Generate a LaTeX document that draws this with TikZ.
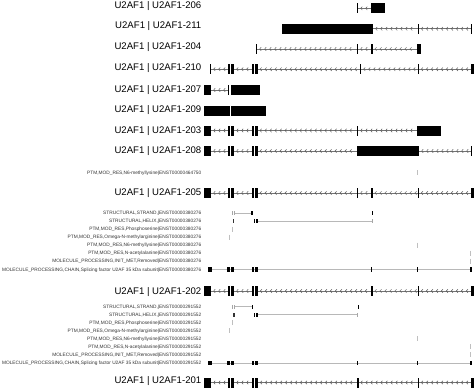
\documentclass[tikz,border=0pt]{standalone}
\usepackage{fontspec}
\setmainfont{Liberation Sans}
\usetikzlibrary{
    decorations.markings,
    positioning
}
\tikzset{
    every picture/.style = {
        x = 1pt,
        y = -1pt
    },
    tlabel/.style = {
        anchor = east,
        inner sep = 0pt,
        text height = 6.9pt,
        text depth = 0pt,
        font = \fontsize{9.6}{11}\selectfont
    },
    flabel/.style = {
        anchor = east,
        inner sep = 0pt,
        text height = 3.4pt,
        text depth = 0pt,
        text = black!80,
        font = \fontsize{4.8}{5.5}\selectfont
    },
    exon/.style = {fill = black},
    intron/.style = {
        draw = black!55,
        line width = 0.5pt,
        postaction = {decorate},
        decoration = {markings,
            mark = between positions 3pt and -2pt step 5pt with {
                \draw[black!65, line width = 0.45pt] (0.9pt,1.7pt) -- (-0.7pt,0pt) -- (0.9pt,-1.7pt);
            }
        }
    },
    fline/.style = {draw = black!28, line width = 0.8pt},
    ftick/.style = {draw = black!25, line width = 0.5pt}
}

% row y, label y, name, exons
\newcommand\transcript[4]{%
    \node[tlabel] (l#3) at (201.5,#2) {U2AF1 | U2AF1-#3};
    \foreach \a/\b [remember = \b as \prev (initially 0)] in {#4} {
        \pgfmathparse{and(\prev > 0, \a - \prev > 2.5)}
        \ifdim\pgfmathresult pt>0.5pt
            \draw[intron] (\prev,#1) -- (\a,#1);
        \fi
        \fill[exon] (\a,#1-5) rectangle (\b,#1+5);
    }
}
% y, name, label, lines, marks
\newcommand\featrow[5]{%
    \node[flabel] (#2) at (201.5,#1) {#3};
    \foreach \a/\b in {#4} \draw[fline] (\a,#1) -- (\b,#1);
    \foreach \a/\b/\c in {#5} \fill[\c] (\a,#1-2.2) rectangle (\b,#1+2.2);
}
% y, name, label, position
\newcommand\ptmrow[4]{%
    \node[flabel] (#2) at (201.5,#1) {#3};
    \draw[ftick] (#4,#1-2.5) -- (#4,#1+2.5);
}

\begin{document}
\begin{tikzpicture}
    \useasboundingbox (0,0) rectangle (474,389);

    \transcript{8.3}{5.3}{206}{357.2/358.4, 371.3/385}
    \transcript{28.7}{25.5}{211}{282.3/373.3, 417.7/419, 471/472.4}
    \transcript{49}{46.3}{204}{256.1/257.3, 357.1/358.3, 371.4/372.6, 416.7/421}
    \transcript{69.2}{67}{210}{210.1/211.3, 227.7/230, 231/234.3, 251.7/254, 255.3/257.7, 360.1/361.3, 417.6/419, 470.7/474}
    \transcript{90}{89}{207}{204/211.3, 227.7/229.2, 231/260}
    \transcript{110.5}{109.3}{209}{204/230, 231/266}
    \transcript{130.5}{129.7}{203}{204/211.3, 227.7/230, 231/234.3, 251.7/254, 255.3/257.7, 357.1/358.3, 416.7/441}
    \transcript{151}{150.3}{208}{204/211.3, 227.7/230, 231/234.3, 251.7/254, 255.3/257.7, 357.3/419.3, 471/472.4}

    \ptmrow{172.5}{m464750}{PTM,MOD\_RES,N6-methyllysine|ENST00000464750}{417.7}

    \transcript{193}{191.7}{205}{204/211.3, 227.7/230, 231/234.3, 251.7/254, 255.3/257.7, 357.1/358.3, 371.4/372.6, 417.6/419, 470.5/474}

    % features of ENST00000380276
    \featrow{213}{strandA}{STRUCTURAL,STRAND,|ENST00000380276}{234.3/251.4}
        {231.9/232.6/black!35, 233.6/234.3/black!35, 251.4/252.6/black, 371.7/372.9/black}
    \featrow{221}{helixA}{STRUCTURAL,HELIX,|ENST00000380276}{257.7/372}
        {233.1/234.3/black!80, 254.2/255.4/black, 256.4/257.7/black, 371.6/372.4/black!35}
    \ptmrow{229}{phosA}{PTM,MOD\_RES,Phosphoserine|ENST00000380276}{232.3}
    \ptmrow{237}{argA}{PTM,MOD\_RES,Omega-N-methylarginine|ENST00000380276}{229.3}
    \ptmrow{245}{lysA}{PTM,MOD\_RES,N6-methyllysine|ENST00000380276}{417.7}
    \ptmrow{253}{acetA}{PTM,MOD\_RES,N-acetylalanine|ENST00000380276}{470.7}
    \ptmrow{261}{metA}{MOLECULE\_PROCESSING,INIT\_MET,Removed|ENST00000380276}{470.7}
    \featrow{269.3}{chainA}{MOLECULE\_PROCESSING,CHAIN,Splicing factor U2AF 35 kDa subunit|ENST00000380276}{211.7/470.2}
        {208.3/211.7/black, 227.3/230/black, 231/234.3/black, 251.7/254/black, 255.3/257.7/black, 371.2/372.4/black, 417.2/418.4/black, 470.2/471.6/black}

    \transcript{291}{290.8}{202}{204/211.3, 227.7/230, 231/234.3, 251.7/254, 255.3/258, 371.2/372.6, 417.6/419, 470.7/474}

    % features of ENST00000291552
    \featrow{306.7}{strandB}{STRUCTURAL,STRAND,|ENST00000291552}{234.3/251.8}
        {231.9/232.6/black!35, 233.6/234.3/black!35, 251.8/253/black, 357.7/358.9/black}
    \featrow{314.7}{helixB}{STRUCTURAL,HELIX,|ENST00000291552}{257.7/357.7}
        {233.4/234.6/black!80, 254.2/255.4/black, 256.4/257.7/black, 357.3/358.1/black!35}
    \ptmrow{322.7}{phosB}{PTM,MOD\_RES,Phosphoserine|ENST00000291552}{232.3}
    \ptmrow{330.7}{argB}{PTM,MOD\_RES,Omega-N-methylarginine|ENST00000291552}{229.3}
    \ptmrow{338.7}{lysB}{PTM,MOD\_RES,N6-methyllysine|ENST00000291552}{417.7}
    \ptmrow{346.7}{acetB}{PTM,MOD\_RES,N-acetylalanine|ENST00000291552}{470.7}
    \ptmrow{354.7}{metB}{MOLECULE\_PROCESSING,INIT\_MET,Removed|ENST00000291552}{470.7}
    \featrow{362.9}{chainB}{MOLECULE\_PROCESSING,CHAIN,Splicing factor U2AF 35 kDa subunit|ENST00000291552}{211.7/470.2}
        {208.3/211.7/black, 227.3/230/black, 231/234.3/black, 251.7/254/black, 255.3/257.7/black, 357.1/358.3/black, 417.2/418.4/black, 470.2/471.6/black}

    \transcript{382.5}{379.7}{201}{204/211.3, 227.7/230, 231/234.3, 251.7/254, 255.3/258, 357.1/358.5, 417.6/419, 470.7/474}
\end{tikzpicture}
\end{document}
